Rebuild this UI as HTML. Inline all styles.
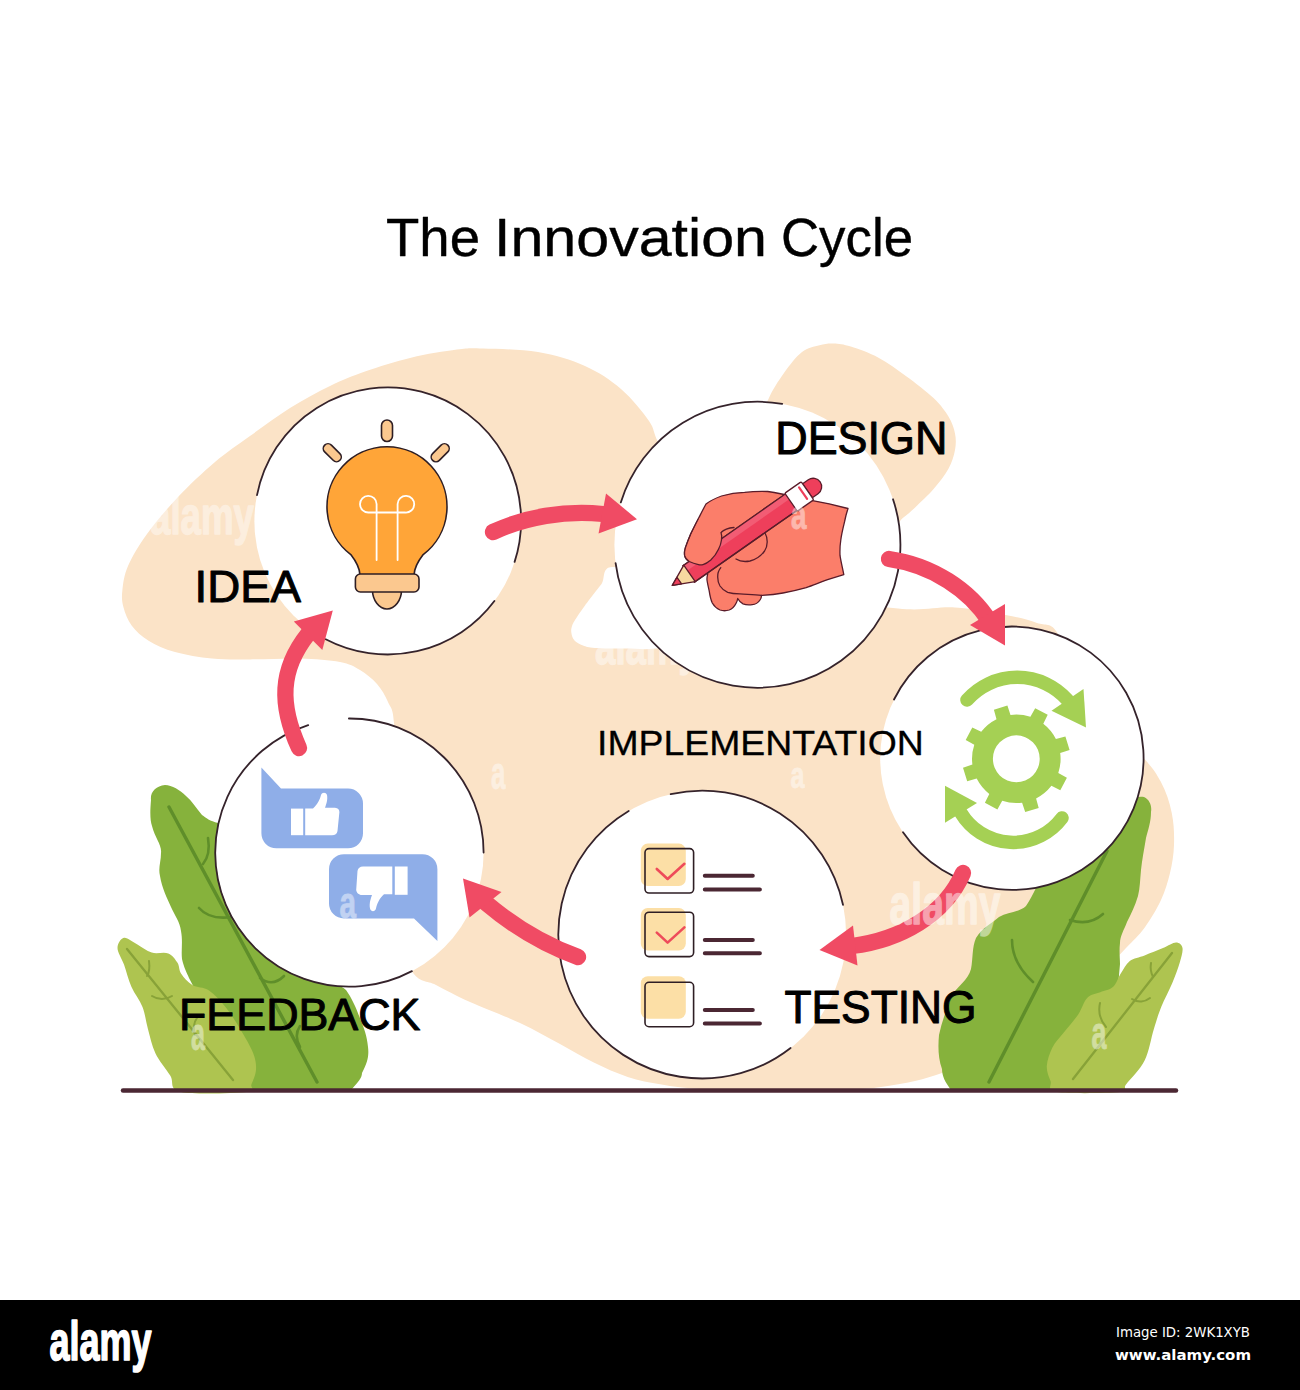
<!DOCTYPE html>
<html lang="en">
<head>
<meta charset="utf-8">
<title>The Innovation Cycle</title>
<style>
html,body{margin:0;padding:0;background:#fff;}
body{width:1300px;height:1390px;overflow:hidden;position:relative;font-family:"Liberation Sans",sans-serif;}
svg{position:absolute;left:0;top:0;display:block;}
text{font-family:"Liberation Sans",sans-serif;}
.wm{font-family:"Liberation Sans",sans-serif;font-weight:bold;fill:#ffffff;}
</style>
</head>
<body>
<svg width="1300" height="1390" viewBox="0 0 1300 1390">
<rect width="1300" height="1390" fill="#ffffff"/>

<g id="blobs" fill="#FBE3C7">
<path d="M122.4,590.0 C123.2,583.2 123.9,575.3 128.0,566.0 C132.1,556.7 138.7,545.5 147.0,534.0 C155.3,522.5 166.7,509.0 178.0,497.0 C189.3,485.0 203.0,472.2 215.0,462.0 C227.0,451.8 237.5,445.0 250.0,436.0 C262.5,427.0 276.7,416.3 290.0,408.0 C303.3,399.7 317.5,392.1 330.0,386.0 C342.5,379.9 351.5,376.2 365.0,371.5 C378.5,366.8 395.7,361.3 411.0,357.7 C426.3,354.1 445.0,351.1 457.0,349.6 C469.0,348.1 469.5,348.2 483.0,348.6 C496.5,349.0 521.0,349.1 538.0,352.0 C555.0,354.9 571.2,359.8 585.0,366.0 C598.8,372.2 610.3,379.8 621.0,389.0 C631.7,398.2 642.5,411.5 649.0,421.0 C655.5,430.5 651.5,429.5 660.0,446.0 C668.5,462.5 676.7,496.0 700.0,520.0 C723.3,544.0 767.0,575.2 800.0,590.0 C833.0,604.8 872.2,605.6 898.0,608.5 C923.8,611.4 937.1,606.4 955.0,607.5 C972.9,608.6 991.9,612.4 1005.6,615.0 C1019.3,617.6 1028.3,619.8 1037.0,623.0 C1045.7,626.2 1050.8,621.2 1058.0,634.0 C1065.2,646.8 1066.6,680.2 1080.0,700.0 C1093.4,719.8 1125.1,739.4 1138.6,753.0 C1152.0,766.6 1155.2,771.6 1160.7,781.6 C1166.2,791.6 1169.6,802.6 1171.8,813.2 C1174.0,823.8 1174.3,835.0 1174.0,845.0 C1173.7,855.0 1172.2,863.8 1170.0,873.0 C1167.8,882.2 1165.2,890.9 1161.0,900.0 C1156.8,909.1 1150.4,919.7 1144.6,927.7 C1138.8,935.7 1133.4,940.1 1126.0,948.0 C1118.6,955.9 1111.0,964.3 1100.0,975.0 C1089.0,985.7 1075.0,1000.3 1060.0,1012.0 C1045.0,1023.7 1025.0,1036.5 1010.0,1045.0 C995.0,1053.5 981.3,1058.3 970.0,1063.0 C958.7,1067.7 951.2,1070.0 942.0,1073.0 C932.8,1076.0 925.2,1078.7 915.0,1081.0 C904.8,1083.3 891.8,1085.6 881.0,1087.0 C870.2,1088.4 866.8,1088.8 850.0,1089.5 C833.2,1090.2 805.0,1091.1 780.0,1091.0 C755.0,1090.9 719.8,1090.1 700.0,1089.0 C680.2,1087.9 673.5,1086.6 661.5,1084.6 C649.5,1082.6 639.0,1080.7 627.7,1077.0 C616.4,1073.3 605.1,1068.1 593.8,1062.6 C582.5,1057.1 572.3,1050.6 560.0,1044.0 C547.7,1037.4 535.0,1030.0 520.0,1023.0 C505.0,1016.0 484.0,1008.3 470.0,1002.0 C456.0,995.7 445.8,990.3 436.0,985.0 C426.2,979.7 420.3,984.2 411.0,970.0 C401.7,955.8 382.7,928.3 380.0,900.0 C377.3,871.7 392.7,829.5 395.0,800.0 C397.3,770.5 395.2,739.3 394.0,723.0 C392.8,706.7 390.8,708.5 388.0,702.0 C385.2,695.5 381.7,689.3 377.0,684.0 C372.3,678.7 366.2,673.7 360.0,670.0 C353.8,666.3 350.0,663.9 340.0,662.0 C330.0,660.1 315.0,658.9 300.0,658.5 C285.0,658.1 264.7,659.4 250.0,659.4 C235.3,659.4 224.5,659.7 212.0,658.5 C199.5,657.3 185.6,655.0 175.0,652.0 C164.4,649.0 155.8,645.1 148.6,640.7 C141.4,636.3 136.0,631.4 131.8,625.8 C127.6,620.2 125.0,613.0 123.4,607.0 C121.8,601.0 121.6,596.8 122.4,590.0 Z"/>
<path d="M768.5,399.0 C772.2,390.3 778.4,380.8 784.0,373.0 C789.6,365.2 796.1,356.6 802.0,352.0 C807.9,347.4 814.2,346.6 819.5,345.2 C824.8,343.8 828.3,343.3 833.5,343.5 C838.7,343.7 843.3,344.2 850.8,346.6 C858.3,349.0 869.3,352.8 878.5,357.7 C887.7,362.6 897.0,369.4 906.2,376.2 C915.4,383.0 926.7,391.5 933.8,398.3 C940.9,405.1 945.1,411.0 948.6,416.8 C952.1,422.6 953.9,427.9 955.0,433.4 C956.1,438.9 956.1,444.1 955.0,450.0 C953.9,455.9 952.1,462.0 948.6,468.5 C945.1,475.0 939.3,482.4 933.8,488.8 C928.3,495.2 920.6,502.3 915.4,507.2 C910.2,512.1 908.4,513.7 902.5,518.3 C896.6,522.9 895.4,538.0 880.0,535.0 C864.6,532.0 829.7,518.3 810.0,500.0 C790.3,481.7 768.9,441.8 762.0,425.0 C755.1,408.2 764.8,407.7 768.5,399.0 Z"/>
</g>
<path d="M614.0,567.0 C600.9,566.0 605.7,578.5 601.5,584.0 C597.3,589.5 593.1,594.5 589.0,600.0 C584.9,605.5 579.8,612.7 577.0,617.0 C574.2,621.3 572.9,623.3 572.0,626.0 C571.1,628.7 571.0,630.6 571.4,633.0 C571.8,635.4 572.6,638.5 574.5,640.6 C576.4,642.7 579.6,644.3 583.0,645.5 C586.4,646.7 587.8,647.5 595.0,648.0 C602.2,648.5 616.0,648.5 626.0,648.6 C636.0,648.7 644.3,650.0 655.0,648.6 C665.7,647.2 685.8,649.8 690.0,640.0 C694.2,630.2 692.7,602.2 680.0,590.0 C667.3,577.8 627.1,568.0 614.0,567.0 Z" fill="#ffffff"/>
<text x="595" y="664" font-size="53" font-weight="bold" fill="#ffffff" stroke="#ffffff" stroke-width="1.4" opacity="0.45" textLength="104" lengthAdjust="spacingAndGlyphs">alamy</text>
<g id="leaves">
<!-- left big leaf -->
<path d="M165,785 C156,786 150,792 151,800 C150,812 150,820 152,826 C155,838 162,845 161,853 C161,862 158,868 160,876 C162,888 167,898 171,907 C175,916 180,922 181,931 C183,942 181,950 182,959 C184,968 187,973 189,978 L247,1090 L351,1090 C358,1082 362,1078 362,1073 C368,1062 369,1055 368,1047 C367,1036 364,1028 361,1021 C357,1010 352,998 346,990 C340,984 330,984 322,982 L349,852 L218,823 C210,821 206,818 202,815 C196,808 192,801 186,796 C180,790 172,785 165,785 Z" fill="#86B23C"/>
<g fill="none" stroke="#5F8E2A" stroke-width="2.6" stroke-linecap="round">
<path d="M169,807 L317,1082" stroke-width="3.4"/>
<path d="M208,838 C210,850 208,858 203,864"/>
<path d="M199,908 C206,916 218,919 232,917"/>
<path d="M260,978 C268,984 276,984 284,976"/>
<path d="M300,1047 C296,1040 296,1032 300,1026"/>
</g>
<!-- left small leaf -->
<path d="M124.0,937.8 C127.2,937.2 132.4,941.8 137.0,944.3 C141.6,946.8 146.5,951.1 151.7,952.6 C156.9,954.1 164.0,951.8 168.3,953.5 C172.6,955.2 175.3,959.4 177.5,962.8 C179.7,966.2 178.7,970.1 181.2,973.8 C183.7,977.5 187.7,982.2 192.3,985.0 C196.9,987.8 203.5,986.8 209.0,990.5 C214.5,994.2 220.3,1000.5 225.5,1007.0 C230.7,1013.5 235.7,1021.5 240.3,1029.2 C244.9,1036.9 250.6,1046.4 253.2,1053.2 C255.8,1060.0 256.3,1064.6 256.0,1069.8 C255.7,1075.0 252.9,1080.9 251.4,1084.6 C249.9,1088.3 258.7,1090.8 247.0,1092.0 C235.3,1093.2 193.8,1094.8 181.0,1092.0 C168.2,1089.2 174.5,1081.9 170.2,1075.4 C165.9,1068.9 159.1,1060.9 155.4,1053.2 C151.7,1045.5 150.2,1036.9 148.0,1029.2 C145.8,1021.5 145.3,1014.1 142.5,1007.0 C139.7,999.9 134.5,993.9 131.4,986.8 C128.3,979.7 126.3,971.1 124.0,964.6 C121.7,958.1 117.5,952.5 117.5,948.0 C117.5,943.5 120.8,938.4 124.0,937.8 Z" fill="#AEC450"/>
<g fill="none" stroke="#88A238" stroke-width="2" stroke-linecap="round">
<path d="M127,949 L233,1080" stroke-width="2.3"/>
<path d="M149,961 C150,969 149,973 147,976"/>
<path d="M152,996 C158,1000 166,1000 172,996"/>
<path d="M195,1035 C193,1028 194,1022 197,1018"/>
</g>
<!-- right big leaf -->
<path d="M1144,797 C1150,800 1152,806 1151,812 C1151,822 1148,830 1146,838 C1144,850 1142,860 1141,870 C1140,880 1140,888 1138,896 C1135,906 1131,914 1127,922 C1124,930 1120,936 1120,943 C1119,951 1120,958 1120,964 L1109,1090 L951,1090 C945,1082 942,1076 942,1069 C938,1058 938,1046 939,1035 C942,1021 947,1008 952,995 C958,986 968,980 971,969 C973,958 972,947 976,938 C982,928 992,923 999,917 C1008,912 1020,912 1026,906 C1030,900 1033,894 1036,888 L1012,758 L1130,800 C1135,797 1140,796 1144,797 Z" fill="#86B23C"/>
<g fill="none" stroke="#5F8E2A" stroke-width="2.6" stroke-linecap="round">
<path d="M1107,851 L989,1082" stroke-width="3.4"/>
<path d="M1070,920 C1082,924 1094,922 1103,914"/>
<path d="M1033,982 C1022,972 1012,958 1012,940"/>
</g>
<!-- right small leaf -->
<path d="M1176.0,942.5 C1179.2,942.5 1181.9,944.6 1182.5,948.0 C1183.1,951.4 1181.4,957.0 1179.7,962.8 C1178.0,968.6 1175.4,975.6 1172.3,983.0 C1169.2,990.4 1164.3,999.3 1161.2,1007.0 C1158.1,1014.7 1156.6,1020.3 1153.8,1029.2 C1151.0,1038.1 1149.2,1051.4 1144.6,1060.6 C1140.0,1069.8 1130.1,1079.4 1126.0,1084.6 C1121.9,1089.8 1131.5,1090.8 1120.0,1092.0 C1108.5,1093.2 1068.6,1093.8 1057.0,1092.0 C1045.4,1090.2 1052.2,1085.3 1050.5,1081.0 C1048.8,1076.7 1046.5,1071.5 1046.8,1066.0 C1047.1,1060.5 1049.5,1053.2 1052.3,1047.7 C1055.1,1042.2 1059.1,1038.5 1063.4,1033.0 C1067.7,1027.5 1074.2,1020.4 1078.2,1014.5 C1082.2,1008.6 1083.7,1001.5 1087.4,997.8 C1091.1,994.1 1096.0,994.1 1100.3,992.3 C1104.6,990.5 1109.8,989.9 1113.2,986.8 C1116.6,983.7 1117.8,978.1 1120.6,973.8 C1123.4,969.5 1125.8,964.1 1129.8,961.0 C1133.8,957.9 1139.1,957.6 1144.6,955.4 C1150.1,953.2 1157.8,950.1 1163.0,948.0 C1168.2,945.9 1172.8,942.5 1176.0,942.5 Z" fill="#AEC450"/>
<g fill="none" stroke="#88A238" stroke-width="2" stroke-linecap="round">
<path d="M1172,953 L1073,1079" stroke-width="2.3"/>
<path d="M1151,963 C1150,969 1151,973 1153,977"/>
<path d="M1132,999 C1138,1003 1145,1002 1150,998"/>
<path d="M1100,1003 C1098,1012 1100,1020 1106,1027"/>
</g>
</g>
<line x1="123" y1="1090.5" x2="1176" y2="1090.5" stroke="#4B2733" stroke-width="4.5" stroke-linecap="round"/>
<g id="circles">
<circle cx="387.7" cy="521.2" r="133.3" fill="#ffffff"/>
<circle cx="757.4" cy="544.7" r="143.0" fill="#ffffff"/>
<circle cx="1011.9" cy="758.3" r="131.7" fill="#ffffff"/>
<circle cx="702.3" cy="934.5" r="143.8" fill="#ffffff"/>
<circle cx="349.6" cy="852.5" r="134.0" fill="#ffffff"/>
<path d="M494.4,601.0 A133.3,133.3 0 0 1 325.7,639.2 M257.0,495.1 A133.3,133.3 0 1 1 514.6,561.9 " fill="none" stroke="#35232B" stroke-width="1.8" stroke-linecap="round"/>
<path d="M620.8,502.4 A143.0,143.0 0 0 1 782.2,403.9 M893.0,499.3 A143.0,143.0 0 1 1 615.6,563.1 " fill="none" stroke="#35232B" stroke-width="1.8" stroke-linecap="round"/>
<path d="M894.0,699.5 A131.7,131.7 0 0 1 1090.2,652.4 M1090.3,652.4 A131.7,131.7 0 1 1 903.0,832.3 " fill="none" stroke="#35232B" stroke-width="1.8" stroke-linecap="round"/>
<path d="M670.7,794.2 A143.8,143.8 0 0 1 843.0,904.8 M790.6,1048.0 A143.8,143.8 0 1 1 628.7,811.0 " fill="none" stroke="#35232B" stroke-width="1.8" stroke-linecap="round"/>
<path d="M411.9,971.1 A134.0,134.0 0 1 1 308.2,725.1 M348.9,718.5 A134.0,134.0 0 0 1 483.6,852.5 " fill="none" stroke="#35232B" stroke-width="1.8" stroke-linecap="round"/>
</g>
<g id="bulb" stroke="#2E1E24" stroke-width="1.6" stroke-linejoin="round">
<rect x="381.5" y="420" width="11" height="21.5" rx="5.5" fill="#FBC88F"/>
<rect x="327.5" y="442" width="9.5" height="21.5" rx="4.75" fill="#FBC88F" transform="rotate(-45 332.2 452.7)"/>
<rect x="435.5" y="442" width="9.5" height="21.5" rx="4.75" fill="#FBC88F" transform="rotate(45 440.2 452.7)"/>
<path d="M350.8,554.6 A60,60 0 1 1 423.2,554.6 C419,560 414.5,566 414,575 L360,575 C359.5,566 355,560 350.8,554.6 Z" fill="#FFA538"/>
<path d="M372.5,590 C372.5,600 379,609 387,609 C395,609 401.5,600 401.5,590 Z" fill="#FBC88F"/>
<rect x="355.4" y="574" width="63.6" height="18" rx="5" fill="#FBC88F"/>
<g fill="none" stroke="#ffffff" stroke-width="1.8" stroke-linecap="round">
<path d="M376.6,560 L376.6,504 A8.3,8.3 0 1 0 368.3,512.5 L405.2,512.5 A8.3,8.3 0 1 0 397.6,504 L397.6,560"/>
</g>
</g>
<g id="hand" stroke="#5A1C2A" stroke-width="1.3" stroke-linejoin="round" stroke-linecap="round">
<path fill="#FB7E6A" d="M706,504 C711,500 716,498 721.5,496 C730,493.5 737,492.5 744.6,492.3 C752,491.5 760,491.3 767.7,491.5 C785,494 800,498 813.8,500.8 L829.2,503.8 L848,508.5 C846.5,513 845.5,517 844.6,521.5 C843,528 841.5,534 840.8,540 C840,545 839.8,550 840,555.4 C841,562 842.5,568 843.8,574.6 L829.2,579.2 C821,582 814,585 806.2,587.7 C798,590 790,591.8 783,593 C776,594.3 769,595 761.5,595.4 C761.5,597 761,598.5 760,600 C758,603 755.5,604.5 752.3,604.6 C749,605 746,605 743,603.8 C740.5,602.5 738.8,600.5 737.7,598.5 C737.5,600 737,601.5 736.2,603 C734.5,606.5 732,609 729.2,610 C726,611 723,611 720,610 C716.5,608.5 714,606 712.3,603 C710.5,599 709.8,595 709.2,590.8 C708.3,587 707.5,583.5 707,580 C706.8,578 707.2,576 707.7,573.8 L703,564.6 C701.5,565 700,565 698.5,564.6 C695,563.8 692,562.8 689.2,561.5 C686.8,560 685.2,558 684.6,555.4 C684.2,553 684.6,550.3 685.4,547.7 C687,543 688.8,538.5 690.8,533.8 C693.3,528.7 695.8,523.6 698.5,518.5 C701,513.5 703.4,508.6 706,504 Z"/>
<path fill="none" d="M720.8,567.7 C718.5,570.5 717.5,573.5 717.7,577 C717.7,580.5 718.5,583.5 720,586 C722,589 724.5,591 727.7,592.3 C731.5,593.5 735.5,593.8 740,593.8 C747,594.3 754,595 761.5,595.4"/>
<path fill="none" d="M765,533 C768,538 768,546 764.6,551 C761,556 756,559.5 750,561 C745,562 740,561.5 736,559"/>
<path fill="none" d="M721,532.5 C724,529.5 728,528 734,527.5"/>
<g transform="translate(672.3 585.4) rotate(-35)">
<rect x="20" y="-10" width="126" height="20" fill="#EE3F5B"/>
<rect x="20" y="-10" width="126" height="6.5" fill="#F25C74" stroke="none"/>
<rect x="20" y="-10" width="126" height="20" fill="none"/>
<path d="M0,0 L21,-10 L21,10 Z" fill="#F8D9A0"/>
<path d="M0,0 L8.5,-4 L8.5,4 Z" fill="#EE3F5B"/>
<path d="M165,-8.5 L172,-8.5 A8.5,8.5 0 0 1 172,8.5 L165,8.5 Z" fill="#EE3F5B"/>
<rect x="145" y="-11" width="20" height="22" rx="1.5" fill="#ffffff"/>
<path d="M160,-7.5 L160,6.5" stroke="#EE3F5B" stroke-width="2.2" fill="none"/>
</g>
<path fill="#FB7E6A" stroke="none" d="M721,532.5 C722,535 721.8,537.5 721.5,540 C721,543.5 720,546.5 718.5,549.2 C716.5,553.5 714,557 710.8,560 C708.5,562 706,563.8 703,564.6 C701.5,565 700,565 698.5,564.6 C695,563.8 692,562.8 689.2,561.5 C686.8,560 685.2,558 684.6,555.4 C684.2,553 684.6,550.3 685.4,547.7 L698.5,518.5 L721,506 Z"/>
<path fill="none" d="M721,532.5 C722,535 721.8,537.5 721.5,540 C721,543.5 720,546.5 718.5,549.2 C716.5,553.5 714,557 710.8,560 C708.5,562 706,563.8 703,564.6 C701.5,565 700,565 698.5,564.6 C695,563.8 692,562.8 689.2,561.5 C686.8,560 685.2,558 684.6,555.4 C684.2,553 684.6,550.3 685.4,547.7 C687,543 688.8,538.5 690.8,533.8 C693.3,528.7 695.8,523.6 698.5,518.5"/>
</g>
<g id="gear" fill="#A5D054">
<path fill-rule="evenodd" d="M1055.9,739.0 L1065.4,736.4 L1069.6,749.9 L1060.2,753.0 A44.3,44.3 0 0 1 1058.3,772.9 L1066.9,777.7 L1060.3,790.2 L1051.4,785.8 A44.3,44.3 0 0 1 1036.1,798.4 L1038.7,807.9 L1025.2,812.1 L1022.1,802.7 A44.3,44.3 0 0 1 1002.2,800.8 L997.4,809.4 L984.9,802.8 L989.3,793.9 A44.3,44.3 0 0 1 976.7,778.6 L967.2,781.2 L963.0,767.7 L972.4,764.6 A44.3,44.3 0 0 1 974.3,744.7 L965.7,739.9 L972.3,727.4 L981.2,731.8 A44.3,44.3 0 0 1 996.5,719.2 L993.9,709.7 L1007.4,705.5 L1010.5,714.9 A44.3,44.3 0 0 1 1030.4,716.8 L1035.2,708.2 L1047.7,714.8 L1043.3,723.7 A44.3,44.3 0 0 1 1055.9,739.0 Z M1039.7,758.8 A23.4,23.4 0 1 0 992.9,758.8 A23.4,23.4 0 1 0 1039.7,758.8 Z"/>
<path d="M967,700 A67,67 0 0 1 1067.5,700" fill="none" stroke="#A5D054" stroke-width="13.5" stroke-linecap="round"/>
<polygon points="1083.5,689 1086,727.5 1051.5,710.8"/>
<path d="M1062,818 A61,61 0 0 1 961,813" fill="none" stroke="#A5D054" stroke-width="13.5" stroke-linecap="round"/>
<polygon points="945,785.8 945,822.8 977,803"/>
</g>
<g id="checklist">
<rect x="640.8" y="843.6" width="45" height="42.5" rx="7" fill="#FCDFA6"/>
<rect x="645" y="848.6" width="48.6" height="44.4" rx="4" fill="none" stroke="#2E1E24" stroke-width="1.6"/>
<path d="M656.8,869.0 L667.6,879.0 L684.4,863.8" fill="none" stroke="#EE4B5A" stroke-width="2.6" stroke-linecap="round" stroke-linejoin="round"/>
<path d="M704.8,875.8 L752.8,875.8 M704.8,889.6 L759.9,889.6" stroke="#4B2733" stroke-width="4" stroke-linecap="round" fill="none"/>
<rect x="640.8" y="908.0" width="45" height="42.5" rx="7" fill="#FCDFA6"/>
<rect x="645" y="912.2" width="48.6" height="44.4" rx="4" fill="none" stroke="#2E1E24" stroke-width="1.6"/>
<path d="M656.8,932.6 L667.6,942.6 L684.4,927.4" fill="none" stroke="#EE4B5A" stroke-width="2.6" stroke-linecap="round" stroke-linejoin="round"/>
<path d="M704.8,939.9 L752.8,939.9 M704.8,953.3 L759.9,953.3" stroke="#4B2733" stroke-width="4" stroke-linecap="round" fill="none"/>
<rect x="640.8" y="976.3" width="45" height="42.5" rx="7" fill="#FCDFA6"/>
<rect x="645" y="982.3" width="48.6" height="44.4" rx="4" fill="none" stroke="#2E1E24" stroke-width="1.6"/>
<path d="M704.8,1010.0 L752.8,1010.0 M704.8,1023.4 L759.9,1023.4" stroke="#4B2733" stroke-width="4" stroke-linecap="round" fill="none"/>
</g>
<g id="bubbles">
<path d="M261.4,767.5 L281,788.5 L348,788.5 A15,15 0 0 1 363,803.5 L363,833.3 A15,15 0 0 1 348,848.3 L276.4,848.3 A15,15 0 0 1 261.4,833.3 Z" fill="#8FAEE8"/>
<path d="M437.4,941 L414,918.4 L344,918.4 A15,15 0 0 1 329,903.4 L329,869.2 A15,15 0 0 1 344,854.2 L422.4,854.2 A15,15 0 0 1 437.4,869.2 Z" fill="#8FAEE8"/>
<g fill="#ffffff">
<rect x="291" y="808.6" width="12.2" height="26.6"/>
<path d="M305.2,808.6 L313,808.6 C318,804 320,799 321,795 C322,792 326,792 327,795 C328,800 326,805 325,807.8 L335,807.8 C338,807.8 339.4,810 339.4,812 L337.5,831 C337,834 335,835.2 332,835.2 L305.2,835.2 Z"/>
<rect x="394.8" y="866.5" width="12.8" height="28.3"/>
<path d="M392.3,894.3 L384,894.3 C379,899 377,904 376,908.5 C375,912 371,912 370,908.5 C369,903 371,898 372,895 L362,895 C358.5,895 356.5,892.5 356.2,890 L357.5,871 C358,868 360,866.5 363,866.5 L392.3,866.5 Z"/>
</g>
</g>
<g id="arrows" fill="#F04B64" stroke="none">
<g fill="none" stroke="#F04B64" stroke-width="16.3" stroke-linecap="round">
<path d="M493,532 C525,517 565,510 603,514" />
<path d="M889,559 C932,565 970,590 990,622" />
<path d="M963,873 C945,915 900,940 852,946" />
<path d="M578,957 C545,945 512,925 486,903" />
<path d="M299,748 C279.5,705 279.5,670 308,634" />
</g>
<polygon points="606,493.5 637,519.2 598.5,533.5"/>
<polygon points="1005,604 1005,645.5 970,625"/>
<polygon points="819.5,950 853,925.5 857.5,965.5"/>
<polygon points="463,878.5 501.5,892 469.5,917.5"/>
<polygon points="332.8,610.5 293.8,621.5 322.3,650"/>
</g>
<g id="wm" class="wm" fill="#ffffff" stroke="#ffffff" stroke-width="1.4" stroke-linejoin="round" font-weight="bold" style="font-family:'Liberation Sans',sans-serif">
<text x="150" y="533.5" font-size="53" textLength="104" lengthAdjust="spacingAndGlyphs" opacity="0.42">alamy</text>
<text x="889.5" y="923.5" font-size="58" textLength="111" lengthAdjust="spacingAndGlyphs" opacity="0.48">alamy</text>
<text x="791.0" y="528.5" font-size="40.0" textLength="15.5" lengthAdjust="spacingAndGlyphs" opacity="0.45" stroke-width="0.8">a</text>
<text x="339.5" y="918.0" font-size="44.0" textLength="16.5" lengthAdjust="spacingAndGlyphs" opacity="0.45" stroke-width="0.8">a</text>
<text x="191.0" y="1050.0" font-size="46.0" textLength="14.0" lengthAdjust="spacingAndGlyphs" opacity="0.45" stroke-width="0.8">a</text>
<text x="1091.5" y="1049.0" font-size="46.0" textLength="15.0" lengthAdjust="spacingAndGlyphs" opacity="0.45" stroke-width="0.8">a</text>
<text x="491.0" y="788.5" font-size="46.0" textLength="14.5" lengthAdjust="spacingAndGlyphs" opacity="0.45" stroke-width="0.8">a</text>
<text x="790.5" y="788.0" font-size="36.0" textLength="14.0" lengthAdjust="spacingAndGlyphs" opacity="0.45" stroke-width="0.8">a</text>
</g>
<g id="labels" fill="#000000" stroke="#000000" stroke-width="1" stroke-linejoin="round">
<text x="386.0" y="256.0" font-size="53.0" textLength="94.0" lengthAdjust="spacingAndGlyphs" stroke-width="0.4">The</text>
<text x="494.0" y="256.0" font-size="53.0" textLength="273.0" lengthAdjust="spacingAndGlyphs" stroke-width="0.4">Innovation</text>
<text x="781.0" y="256.0" font-size="53.0" textLength="132.0" lengthAdjust="spacingAndGlyphs" stroke-width="0.4">Cycle</text>
<text x="194.5" y="602.0" font-size="44.8" textLength="106.5" lengthAdjust="spacingAndGlyphs">IDEA</text>
<text x="775.3" y="453.8" font-size="46.2" textLength="172.0" lengthAdjust="spacingAndGlyphs">DESIGN</text>
<text x="597.0" y="754.6" font-size="34.8" textLength="326.7" lengthAdjust="spacingAndGlyphs" stroke-width="0.3">IMPLEMENTATION</text>
<text x="784.5" y="1023.2" font-size="45.8" textLength="192.0" lengthAdjust="spacingAndGlyphs">TESTING</text>
<text x="179.0" y="1029.5" font-size="44.0" textLength="241.5" lengthAdjust="spacingAndGlyphs">FEEDBACK</text>
</g>
<rect x="0" y="1300" width="1300" height="90" fill="#000"/>
<g fill="#ffffff">
<text x="49.5" y="1359.5" font-size="55" font-weight="bold" textLength="102" lengthAdjust="spacingAndGlyphs" stroke="#ffffff" stroke-width="1.7" stroke-linejoin="round">alamy</text>
<text x="1116" y="1337.2" font-size="14.4" textLength="134" lengthAdjust="spacingAndGlyphs" style="font-family:'DejaVu Sans','Liberation Sans',sans-serif">Image ID: 2WK1XYB</text>
<text x="1115" y="1360.3" font-size="14.4" font-weight="bold" textLength="136" lengthAdjust="spacingAndGlyphs" style="font-family:'DejaVu Sans','Liberation Sans',sans-serif">www.alamy.com</text>
</g>
</svg>
</body>
</html>
